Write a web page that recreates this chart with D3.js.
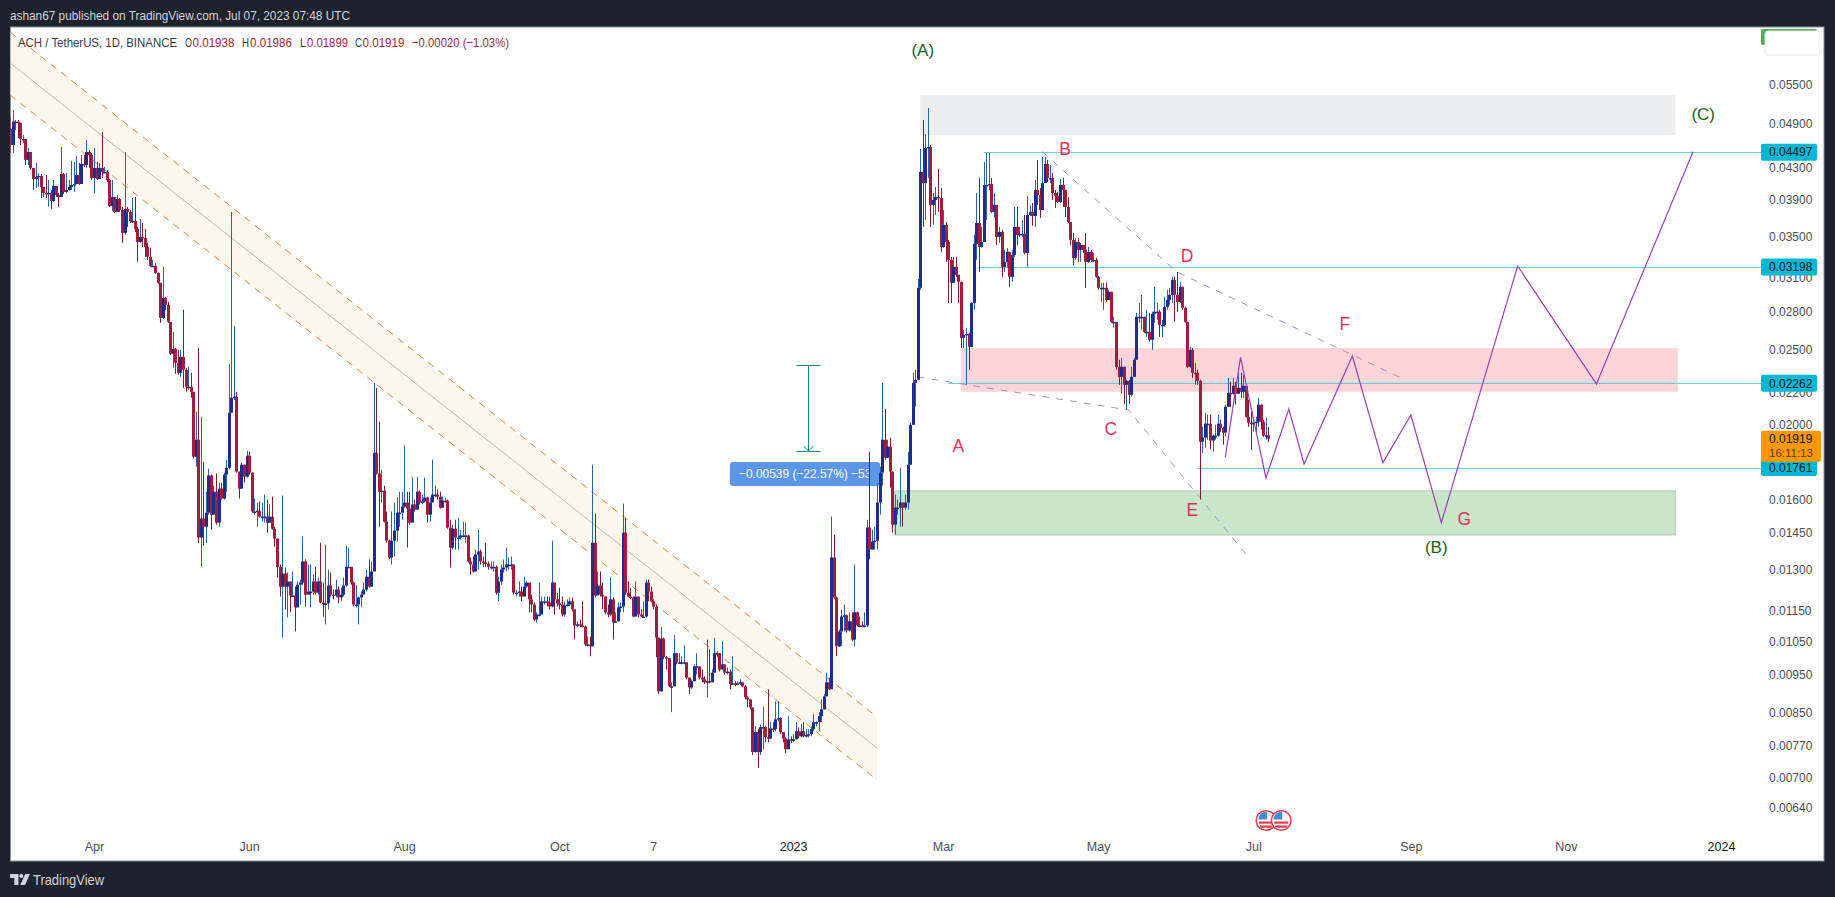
<!DOCTYPE html>
<html>
<head>
<meta charset="utf-8">
<script src="https://cdn.jsdelivr.net/npm/d3@7"></script>
<style>
  html, body { margin: 0; padding: 0; background: #1e222d; overflow: hidden; }
  svg { display: block; }
  text { font-family: "Liberation Sans", Arial, sans-serif; }
</style>
</head>
<body>
<svg id="chart" width="1835" height="897"></svg>
<script>
// daily candles from 2022-02-27, prices in units of 0.00001 USDT
let firstDay = '2022-02-27';
let firstOpen = 4819;
let closes = [
  4594,4925,4925,4910,4679,4679,4395,4500,4292,4153,
  4178,4191,4056,3984,3972,3984,3890,4068,3960,3937,
  4216,3996,4020,4056,4080,4092,4203,4092,4343,4330,
  4500,4461,4166,4292,4153,4292,4241,4241,4141,3833,
  3937,3766,3913,3788,3538,3800,3766,3666,3666,3580,
  3444,3496,3486,3393,3295,3208,3208,3142,3050,2748,
  2916,2857,2716,2470,2506,2404,2334,2448,2355,2239,
  2239,2206,1819,1913,1430,1513,1477,1540,1720,1531,
  1639,1495,1654,1606,1725,1760,2073,2167,2174,1740,
  1654,1776,1714,1824,1735,1545,1545,1549,1522,1522,
  1522,1495,1522,1468,1426,1311,1236,1285,1236,1255,
  1204,1204,1162,1243,1251,1332,1207,1218,1218,1255,
  1214,1255,1179,1176,1176,1240,1207,1204,1225,1197,
  1207,1240,1311,1311,1251,1172,1172,1197,1207,1225,
  1273,1236,1293,1840,1730,1639,1644,1499,1417,1348,
  1417,1460,1540,1540,1568,1587,1559,1495,1578,1554,
  1639,1587,1592,1611,1531,1587,1625,1625,1615,1563,
  1596,1596,1473,1388,1468,1430,1430,1439,1439,1439,
  1332,1320,1293,1360,1372,1332,1328,1324,1311,1311,
  1311,1214,1255,1300,1308,1320,1320,1320,1214,1214,
  1218,1200,1236,1251,1190,1172,1121,1138,1138,1183,
  1183,1179,1165,1251,1190,1176,1172,1138,1169,1172,
  1183,1155,1101,1105,1101,1098,1041,1041,1035,1408,
  1204,1240,1207,1200,1145,1138,1190,1111,1115,1162,
  1165,1451,1214,1200,1197,1131,1200,1138,1131,1131,
  1251,1218,1183,1165,1062,905,1059,1002,999,919,
  919,1014,987,987,987,987,943,916,933,975,
  975,943,938,930,933,930,957,1014,1014,966,
  981,957,960,925,927,925,927,930,919,889,
  884,863,756,802,756,814,814,790,787,811,
  809,833,836,802,787,762,785,783,785,804,
  792,804,792,795,797,809,826,826,841,858,
  892,930,911,1348,1197,1035,1082,1131,1135,1085,
  1115,1056,1145,1101,1101,1098,1101,1473,1380,1413,
  1417,1587,1735,1913,1813,1874,1740,1486,1563,1563,
  1587,1563,1587,1776,2000,2265,2286,3005,4241,4104,
  4555,4569,3845,3902,3937,3925,3393,3624,3444,3265,
  3050,3198,3124,3059,2590,2613,2620,2521,2873,3424,
  3644,3393,3444,4080,4080,4092,3766,3845,3496,3549,
  3198,3246,3344,3105,3314,3602,3517,3528,3528,3334,
  3732,3766,3721,4020,3960,3788,4104,4343,4166,4166,
  3984,3949,3879,4080,4020,3822,3655,3465,3285,3444,
  3364,3413,3364,3246,3344,3265,3265,3105,3005,3005,
  3005,2899,2970,2716,2716,2376,2306,2376,2252,2279,
  2186,2306,2426,2757,2757,2757,2636,2636,2575,2782,
  2799,2799,2692,2692,2840,2899,2943,3077,2943,2882,
  3014,2832,2716,2376,2499,2334,2334,2279,1902,1925,
  2006,2006,1908,1936,1936,2006,1982,1954,2110,2199,
  2193,2246,2193,2232,2206,2246,2048,2012,2006,2012,
  2018,2123,2018,1936,1938,1919
];
let highs = [
  4998,5099,4950,4950,4760,4732,4555,4555,4488,4292,
  4356,4228,4216,4056,4203,4141,4020,4141,4068,3984,
  4569,4228,4228,4141,4382,4369,4448,4356,4461,4461,
  4665,4528,4488,4555,4369,4356,4777,4305,4266,4153,
  4141,3937,3960,3925,3822,4500,3822,3788,3925,3937,
  3602,3688,3644,3580,3435,3384,3265,3236,3142,3050,
  3198,2925,2882,2636,2636,2513,2499,2499,2815,2369,
  2376,2334,2206,2079,2513,2048,1792,1639,1755,1725,
  1669,1730,1684,1684,1735,1803,2397,3766,2684,2206,
  1740,1787,1776,1851,1846,1735,1606,1587,1592,1587,
  1625,1601,1578,1615,1477,1426,1320,1620,1308,1289,
  1255,1293,1236,1255,1262,1435,1340,1320,1320,1281,
  1311,1269,1408,1251,1400,1300,1289,1225,1262,1236,
  1232,1269,1396,1388,1311,1255,1243,1200,1218,1251,
  1300,1340,1332,2265,2232,2018,1750,1669,1545,1422,
  1545,1587,1611,1639,1639,1880,1639,1639,1714,1601,
  1714,1644,1625,1709,1615,1611,1803,1669,1649,1639,
  1615,1611,1601,1508,1486,1508,1517,1464,1499,1495,
  1443,1348,1352,1380,1464,1380,1352,1408,1332,1332,
  1332,1316,1273,1320,1340,1388,1348,1352,1320,1225,
  1255,1236,1273,1255,1207,1207,1179,1145,1251,1200,
  1200,1200,1200,1417,1251,1214,1232,1200,1183,1190,
  1197,1197,1155,1115,1121,1183,1101,1066,1066,1776,
  1535,1293,1293,1251,1200,1172,1269,1197,1145,1179,
  1179,1582,1517,1255,1232,1200,1255,1200,1155,1183,
  1262,1262,1236,1190,1172,1062,1095,1062,1005,999,
  930,1070,1014,1014,1005,1038,987,943,938,981,
  1014,975,966,946,1056,1026,966,1062,1020,1014,
  1050,981,972,966,1005,933,933,938,930,922,
  892,884,863,816,809,820,865,816,911,826,
  826,879,879,838,802,790,841,792,797,826,
  814,821,826,809,809,816,846,828,851,884,
  898,957,943,1522,1443,1200,1088,1155,1172,1138,
  1145,1145,1320,1148,1131,1115,1145,1508,1846,1464,
  1477,1684,1766,2265,2097,1913,1925,1740,1625,1601,
  1760,1587,1625,1846,2012,2334,2355,3086,4542,4950,
  4746,5130,4594,3984,4056,4279,4044,3788,3655,3465,
  3295,3295,3295,3124,3059,2652,2668,2628,2882,3517,
  3984,4166,3602,4369,4488,4488,4166,3984,3845,3602,
  3570,3364,3384,3344,3364,3822,3822,3602,3677,3732,
  3949,3845,3868,4141,4395,4044,4435,4435,4395,4330,
  4228,4020,3996,4153,4166,3937,3937,3655,3538,3486,
  3486,3435,3413,3538,3393,3364,3334,3285,3114,3050,
  3050,3050,2987,2970,2757,2652,2426,2440,2376,2286,
  2286,2376,2440,2790,2873,2943,2757,2815,2790,2799,
  3014,2873,2815,2732,2925,2987,3005,3105,3105,3151,
  3059,3014,2840,2716,2521,2513,2404,2355,2286,1988,
  2073,2061,2061,1942,2000,2061,2030,1988,2123,2299,
  2272,2299,2272,2369,2334,2320,2252,2154,2079,2048,
  2048,2167,2123,2030,2042,1986
];
let lows = [
  4488,4488,4804,4693,4594,4620,4330,4330,4266,4020,
  4044,4056,3925,3937,3925,3822,3800,3879,3937,3822,
  3937,3972,3984,4008,4020,3996,4092,4080,4092,4305,
  4292,4292,4141,3984,4141,4153,4166,4228,4116,3822,
  3777,3755,3766,3766,3435,3517,3602,3644,3644,3549,
  3246,3435,3393,3295,3265,3198,3198,3133,3040,2708,
  2740,2815,2708,2462,2369,2327,2320,2306,2232,2206,
  2219,2167,1810,1766,1408,1311,1396,1408,1531,1464,
  1531,1486,1477,1601,1601,1639,1750,2073,2154,1735,
  1606,1654,1684,1709,1725,1540,1531,1477,1517,1499,
  1495,1451,1495,1464,1392,1269,1200,1062,1155,1128,
  1145,1200,1082,1162,1172,1243,1165,1207,1162,1207,
  1207,1207,1176,1131,1105,1155,1200,1190,1197,1176,
  1183,1200,1236,1308,1243,1165,1162,1105,1162,1207,
  1218,1232,1236,1293,1725,1477,1587,1495,1408,1340,
  1320,1352,1413,1477,1508,1563,1388,1486,1499,1545,
  1554,1578,1578,1587,1495,1499,1601,1611,1601,1559,
  1563,1587,1468,1308,1380,1380,1380,1422,1430,1408,
  1328,1281,1289,1293,1300,1320,1311,1311,1300,1300,
  1293,1207,1183,1243,1289,1293,1300,1300,1207,1200,
  1200,1183,1218,1232,1145,1145,1115,1111,1131,1138,
  1172,1165,1155,1162,1138,1165,1155,1131,1131,1165,
  1165,1148,1056,1095,1095,1095,1035,1035,1005,1035,
  1197,1207,1200,1155,1138,1128,1131,1056,1111,1115,
  1145,1145,1207,1197,1190,1128,1131,1128,1128,1128,
  1128,1183,1179,1155,1002,898,905,996,966,917,
  851,919,981,984,981,981,938,898,911,933,
  952,938,930,925,889,927,930,957,1002,960,
  966,952,952,911,922,919,922,922,916,884,
  863,858,749,754,721,749,762,778,778,785,
  802,804,828,797,778,754,769,776,778,785,
  787,790,790,789,789,792,804,816,804,826,
  858,892,909,911,1190,1005,1033,1035,1082,1078,
  1082,1050,1035,1098,1095,1095,1095,1095,1340,1380,
  1380,1380,1531,1669,1803,1813,1659,1451,1443,1531,
  1477,1477,1554,1554,1776,2000,2110,2286,2987,3602,
  3677,4166,3602,3624,3732,3766,3344,3384,3246,2873,
  2873,3050,3105,2873,2513,2513,2252,2355,2521,2815,
  3265,3151,3384,3444,3677,4020,3755,3700,3413,3435,
  3105,3151,3198,3014,3059,3295,3413,3496,3496,3320,
  3198,3721,3613,3602,3845,3700,3788,4104,4116,4104,
  3902,3811,3868,3868,3822,3710,3644,3413,3217,3265,
  3246,3246,3334,3005,3236,3246,3246,3096,2987,2882,
  2815,2882,2899,2708,2668,2355,2252,2193,2127,2091,
  2127,2174,2306,2426,2708,2652,2628,2597,2560,2499,
  2708,2732,2597,2597,2676,2815,2857,2873,2716,2799,
  2873,2815,2708,2369,2369,2299,2252,2252,1601,1840,
  1868,1913,1857,1846,1913,1930,1959,1885,1930,2110,
  2110,2186,2123,2193,2167,2167,2042,1988,1857,1959,
  1948,1988,1971,1930,1913,1899
];

let priceTicks = [5500,4900,4300,3900,3500,3100,2800,2500,2200,2000,1600,1450,1300,1150,1050,950,850,770,700,640];
let dateTicks = ['2022-04-01','2022-06-01','2022-08-01','2022-10-01','2022-11-07','2023-01-01','2023-03-01','2023-05-01','2023-07-01','2023-09-01','2023-11-01','2024-01-01'];
let dateLabels = ['Apr','Jun','Aug','Oct','7','2023','Mar','May','Jul','Sep','Nov','2024'];

// drawings on the chart: [date, price]
let channelTop = [['2022-02-27',6429],['2023-02-03',839]];
let channelMid = [['2022-02-27',5863],['2023-02-03',765]];
let channelLow = [['2022-02-27',5331],['2023-02-03',696]];
let greyZone = [['2023-02-20',5331],['2023-12-14',4733]];
let redZone = [['2023-03-08',2513],['2023-12-15',2206]];
let greenZone = [['2023-02-10',1643],['2023-12-14',1441]];
let levels = [4497,3198,2262,1761];
let levelStarts = ['2023-03-17','2023-03-15','2023-03-03','2023-06-09'];
let projection = [['2023-06-20',1815],['2023-06-26',2444],['2023-07-06',1706],['2023-07-15',2096],['2023-07-21',1780],['2023-08-09',2453],['2023-08-21',1787],['2023-09-01',2059],['2023-09-13',1495],['2023-10-13',3206],['2023-11-13',2258],['2023-12-21',4504]];
let trendUpper = [['2023-04-09',4504],['2023-06-01',3150],['2023-08-29',2292]];
let trendLower = [['2023-02-19',2305],['2023-05-13',2090],['2023-06-28',1362]];
let measureDate = '2023-01-07';
let measureFrom = 2389;
let measureTo = 1850;
let measureText = '\u22120.00539 (\u221222.57%) \u2212539';
let waveLabels = [['(A)','2023-02-21',6094],['(C)','2023-12-25',5038],['(B)','2023-09-11',1392]];
let legLabels = [['A','2023-03-07',1878],['B','2023-04-18',4536],['C','2023-05-06',1975],['D','2023-06-05',3303],['E','2023-06-07',1553],['F','2023-08-06',2699],['G','2023-09-22',1511]];
let flagDates = ['2023-07-06','2023-07-12'];
let legendTexts = ['ACH / TetherUS, 1D, BINANCE','O','0.01938','H','0.01986','L','0.01899','C','0.01919','\u22120.00020 (\u22121.03%)'];

let panel = { left: 10.5, top: 27, right: 1824, bottom: 861 };
let parse = d3.utcParse('%Y-%m-%d');

let x = d3.scaleUtc().domain([parse('2022-04-01'), parse('2024-01-01')]).range([94, 1721]);
let y = d3.scaleLog().domain([5500, 640]).range([84.5, 808]);
let pt = d => [x(parse(d[0])), y(d[1])];
let lineGen = d3.line();
// whole pixel + .5 keeps 1px lines sharp
let crisp = v => Math.round(v) + 0.5;

let svg = d3.select('#chart');

svg.append('text').attr('x', 10).attr('y', 19.5)
  .attr('font-size', 13.5).attr('fill', '#d1d4dc')
  .attr('textLength', 340).attr('lengthAdjust', 'spacingAndGlyphs')
  .text('ashan67 published on TradingView.com, Jul 07, 2023 07:48 UTC');

// TradingView footer
let logo = svg.append('g').attr('transform', 'translate(10,874)').attr('fill', '#d1d4dc');
logo.append('path').attr('d', 'M0 0H8.5V11H4.3V4H0Z');
logo.append('circle').attr('cx', 11.3).attr('cy', 2).attr('r', 2);
logo.append('path').attr('d', 'M15.2 0H20L15 11H10.2Z');
svg.append('text').attr('x', 33).attr('y', 884.5)
  .attr('font-size', 14.5).attr('fill', '#d1d4dc')
  .attr('textLength', 71).attr('lengthAdjust', 'spacingAndGlyphs').text('TradingView');

svg.append('rect')
  .attr('x', panel.left).attr('y', panel.top)
  .attr('width', panel.right - panel.left).attr('height', panel.bottom - panel.top)
  .attr('fill', '#ffffff').attr('stroke', '#8a8d96');

let defs = svg.append('defs');
defs.append('clipPath').attr('id', 'panelClip').append('rect')
  .attr('x', panel.left).attr('y', panel.top)
  .attr('width', panel.right - panel.left).attr('height', panel.bottom - panel.top);
defs.append('clipPath').attr('id', 'measureClip').append('rect')
  .attr('x', 735).attr('y', 460).attr('width', 135).attr('height', 28);

let plot = svg.append('g').attr('clip-path', 'url(#panelClip)');

// falling channel
plot.append('path')
  .attr('d', lineGen([pt(channelTop[0]), pt(channelTop[1]), pt(channelLow[1]), pt(channelLow[0])]) + 'Z')
  .attr('fill', '#fdf6ec');
[channelTop, channelLow].forEach(c => {
  plot.append('path').attr('d', lineGen(c.map(pt)))
    .attr('fill', 'none').attr('stroke', '#ea8236').attr('stroke-width', 1).attr('stroke-dasharray', '7 6');
});
plot.append('path').attr('d', lineGen(channelMid.map(pt)))
  .attr('fill', 'none').attr('stroke', '#bdb9b4').attr('stroke-width', 1);

// price zones
[[greyZone, '#eceef0', 'none'], [redZone, '#fcd5d8', 'none'], [greenZone, '#c8e6c9', '#b9c9ba']].forEach(z => {
  let a = pt(z[0][0]), b = pt(z[0][1]);
  plot.append('rect')
    .attr('x', a[0]).attr('y', a[1])
    .attr('width', b[0] - a[0]).attr('height', b[1] - a[1])
    .attr('fill', z[1]).attr('stroke', z[2]);
});

// horizontal levels
plot.selectAll('line.level').data(levels).enter().append('line')
  .attr('class', 'level')
  .attr('x1', (d, i) => x(parse(levelStarts[i]))).attr('x2', 1761)
  .attr('y1', d => crisp(y(d))).attr('y2', d => crisp(y(d)))
  .attr('stroke', '#66cfdf').attr('stroke-width', 1);

// dashed trend lines
[trendUpper, trendLower].forEach(t => {
  plot.append('path').attr('d', lineGen(t.map(pt)))
    .attr('fill', 'none').attr('stroke', '#ae8cc0').attr('stroke-width', 1).attr('stroke-dasharray', '7 7');
});

// measure tool
let mx = crisp(x(parse(measureDate)));
let measure = plot.append('g').attr('stroke', '#17897c').attr('stroke-width', 1).attr('fill', 'none');
measure.append('line').attr('x1', mx).attr('x2', mx).attr('y1', crisp(y(measureFrom))).attr('y2', crisp(y(measureTo)));
[measureFrom, measureTo].forEach(p => {
  measure.append('line').attr('x1', mx - 12).attr('x2', mx + 12).attr('y1', crisp(y(p))).attr('y2', crisp(y(p)));
});
measure.append('path').attr('d', `M${mx - 5} ${y(measureTo) - 5}L${mx} ${y(measureTo)}L${mx + 5} ${y(measureTo) - 5}`);
plot.append('rect').attr('x', 730).attr('y', 462).attr('width', 150).attr('height', 24).attr('rx', 3)
  .attr('fill', '#5b96ea');
plot.append('text').attr('x', 739).attr('y', 478)
  .attr('clip-path', 'url(#measureClip)')
  .attr('font-size', 13).attr('fill', '#ffffff')
  .attr('textLength', 139).attr('lengthAdjust', 'spacingAndGlyphs').text(measureText);

// candles
let candles = closes.map((c, i) => ({
  date: d3.utcDay.offset(parse(firstDay), i),
  open: i ? closes[i - 1] : firstOpen,
  close: c,
  high: highs[i],
  low: lows[i]
}));
let candle = plot.selectAll('g.candle').data(candles).enter().append('g').attr('class', 'candle');
candle.append('line')
  .attr('x1', d => crisp(x(d.date))).attr('x2', d => crisp(x(d.date)))
  .attr('y1', d => y(d.high)).attr('y2', d => y(d.low))
  .attr('stroke', d => d.close >= d.open ? '#2a62ae' : '#7d1d30')
  .attr('stroke-width', 1);
candle.append('rect')
  .attr('x', d => Math.round(x(d.date)) - 1)
  .attr('width', 3)
  .attr('y', d => y(Math.max(d.open, d.close)))
  .attr('height', d => Math.max(1.5, Math.abs(y(d.open) - y(d.close))))
  .attr('fill', d => d.close >= d.open ? '#1c2d8f' : '#a31c3e');

// projected path
plot.append('path').attr('d', lineGen(projection.map(pt)))
  .attr('fill', 'none').attr('stroke', '#9c3fb0').attr('stroke-width', 1.2);

// wave labels
plot.selectAll('text.wave').data(waveLabels).enter().append('text')
  .attr('class', 'wave')
  .attr('x', d => x(parse(d[1]))).attr('y', d => y(d[2]))
  .attr('dy', '.35em').attr('text-anchor', 'middle')
  .attr('font-size', 17).attr('fill', '#1b5e20')
  .text(d => d[0]);
plot.selectAll('text.leg').data(legLabels).enter().append('text')
  .attr('class', 'leg')
  .attr('x', d => x(parse(d[1]))).attr('y', d => y(d[2]))
  .attr('dy', '.35em').attr('text-anchor', 'middle')
  .attr('font-size', 17.5).attr('fill', '#e8305a')
  .text(d => d[0]);

// event flags
let flag = plot.selectAll('g.flag').data(flagDates).enter().append('g')
  .attr('class', 'flag')
  .attr('transform', d => `translate(${x(parse(d))},820.5)`);
flag.append('circle').attr('r', 9.8).attr('fill', '#ffffff').attr('stroke', '#ea3b4b').attr('stroke-width', 1.5);
flag.append('rect').attr('x', -7).attr('y', 1).attr('width', 14).attr('height', 2.2).attr('fill', '#ea3b4b');
flag.append('rect').attr('x', -6).attr('y', 5).attr('width', 12).attr('height', 2.2).attr('fill', '#ea3b4b');
flag.append('path').attr('d', 'M-7.5 -1V-3.5A8.5 8.5 0 0 1 1 -8.5V-1Z').attr('fill', '#3f8ed8');

// axes
let yAxis = d3.axisRight(y).tickValues(priceTicks).tickSize(0).tickPadding(0)
  .tickFormat(d => (d / 1e5).toFixed(5));
let yG = svg.append('g').attr('transform', 'translate(1769,0)').call(yAxis);
yG.select('.domain').remove();
yG.selectAll('text').attr('font-size', 12).attr('font-family', '"Liberation Sans", Arial, sans-serif').attr('fill', '#4b4e58');

let xAxis = d3.axisBottom(x).tickValues(dateTicks.map(parse)).tickSize(0).tickPadding(0)
  .tickFormat((d, i) => dateLabels[i]);
let xG = svg.append('g').attr('transform', 'translate(0,842)').call(xAxis);
xG.select('.domain').remove();
xG.selectAll('text').attr('font-size', 12.5).attr('font-family', '"Liberation Sans", Arial, sans-serif')
  .attr('fill', d => d.getUTCMonth() === 0 ? '#131722' : '#4b4e58')
  .attr('font-weight', d => d.getUTCMonth() === 0 ? 500 : 400);

// price tags on the axis
let tags = svg.selectAll('g.tag').data(levels).enter().append('g')
  .attr('class', 'tag').attr('transform', d => `translate(1761,${y(d)})`);
tags.append('rect').attr('y', -8.5).attr('width', 56).attr('height', 17).attr('rx', 2).attr('fill', '#00b8d4');
tags.append('text').attr('x', 8).attr('dy', '.35em').attr('font-size', 12).attr('fill', '#131722')
  .text(d => (d / 1e5).toFixed(5));

let last = closes[closes.length - 1];
let lastTag = svg.append('g').attr('transform', `translate(1761,${y(last) - 8})`);
lastTag.append('rect').attr('width', 60).attr('height', 31).attr('rx', 2).attr('fill', '#ff9800');
lastTag.append('text').attr('x', 8).attr('y', 12.5).attr('font-size', 12).attr('fill', '#131722')
  .text((last / 1e5).toFixed(5));
lastTag.append('text').attr('x', 8).attr('y', 26.5).attr('font-size', 11.5).attr('fill', '#5a3a10')
  .text('16:11:13');

// corner of the axis: green tag behind the white scale button
svg.append('rect').attr('x', 1761).attr('y', 29).attr('width', 56).attr('height', 16).attr('rx', 2).attr('fill', '#4caf50');
svg.append('rect').attr('x', 1765).attr('y', 31).attr('width', 55).attr('height', 24).attr('rx', 3)
  .attr('fill', '#ffffff').attr('stroke', '#e6e7ea');

// symbol legend, each piece squeezed to the width it has in the TradingView font
let legendX = [18, 185, 192.5, 242, 250, 300, 307, 355, 362.5, 412];
let legendW = [159, 7, 42, 7, 42, 6, 41, 7, 42, 97];
svg.selectAll('text.legend').data(legendTexts).enter().append('text')
  .attr('class', 'legend')
  .attr('x', (d, i) => legendX[i]).attr('y', 46.5)
  .attr('font-size', 13.5)
  .attr('textLength', (d, i) => legendW[i]).attr('lengthAdjust', 'spacingAndGlyphs')
  .attr('fill', (d, i) => i === 0 || (i < 9 && i % 2 === 1) ? '#3a3d47' : '#a5263f')
  .text(d => d);
</script>
</body>
</html>
